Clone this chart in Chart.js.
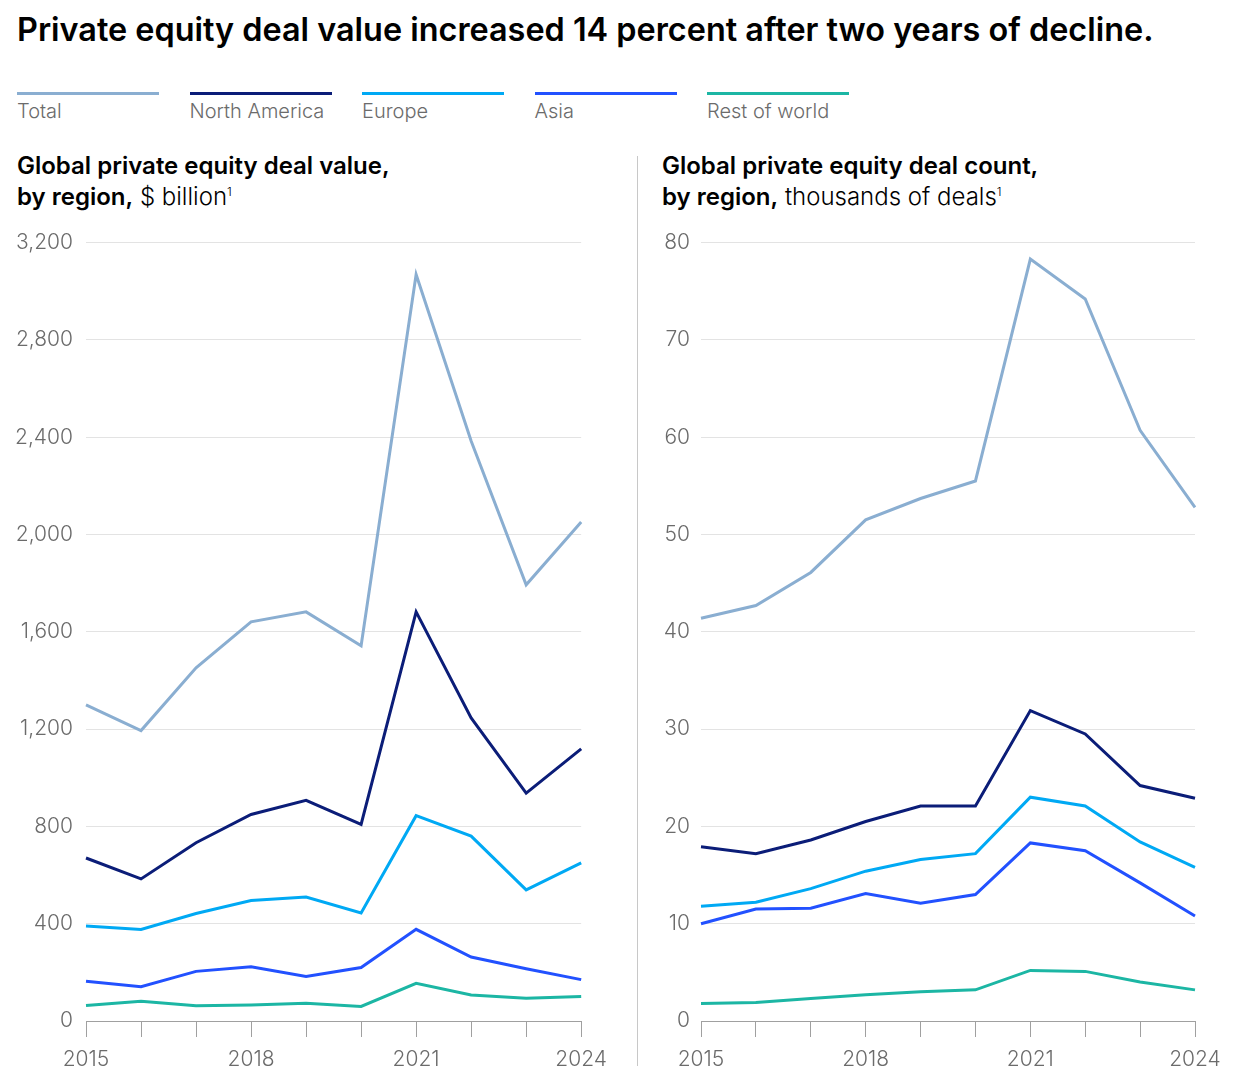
<!DOCTYPE html>
<html>
<head>
<meta charset="utf-8">
<script src="https://cdn.jsdelivr.net/npm/chart.js@4"></script>
<style>
    body {
        margin: 0;
        width: 1249px;
        height: 1078px;
        background: #fff;
        font-family: Inter, "Noto Sans", sans-serif;
        position: relative;
        overflow: hidden;
    }

    h1 {
        position: absolute;
        left: 17px;
        top: 10px;
        margin: 0;
        font-size: 32.4px;
        font-weight: 600;
        color: #000;
        letter-spacing: 0;
    }

    .legend-item {
        position: absolute;
        top: 92px;
        width: 142px;
        font-size: 20px;
        font-weight: 300;
        color: #6b6b6b;
    }

    .legend-item .swatch {
        height: 3px;
        margin-bottom: 4px;
    }

    .subtitle {
        position: absolute;
        top: 150px;
        margin: 0;
        font-size: 24px;
        line-height: 31px;
        color: #000;
    }

    .subtitle b { font-weight: 600; }
    .subtitle span { font-weight: 300; }
    .subtitle sup { font-size: 12px; font-weight: 300; line-height: 0; }

    .divider {
        position: absolute;
        left: 637px;
        top: 156px;
        width: 1px;
        height: 910px;
        background: #c8c8c8;
    }

    .chart-box {
        position: absolute;
    }
</style>
</head>
<body>

<h1>Private equity deal value increased 14 percent after two years of decline.</h1>

<div id="legend"></div>

<p class="subtitle" style="left:17px"><b>Global private equity deal value,<br>by region,</b> <span>$ billion</span><sup>1</sup></p>
<p class="subtitle" style="left:662px"><b>Global private equity deal count,<br>by region,</b> <span>thousands of deals</span><sup>1</sup></p>

<div class="divider"></div>

<div class="chart-box" style="left:0; top:217px; width:617px; height:861px"><canvas id="value-chart"></canvas></div>
<div class="chart-box" style="left:640px; top:219px; width:609px; height:859px"><canvas id="count-chart"></canvas></div>

<script>
//DATOS
const years = ['2015', '2016', '2017', '2018', '2019', '2020', '2021', '2022', '2023', '2024'];
const shownYears = ['2015', '2018', '2021', '2024'];

const regions = ['Total', 'North America', 'Europe', 'Asia', 'Rest of world'];
const regionColors = ['#8aaed1', '#0b1d78', '#00a9f4', '#2251ff', '#1cb6a4'];

// deal value, $ billion
const valueTotal = [1300, 1194, 1452, 1641, 1682, 1543, 3069, 2384, 1793, 2051];
const valueNorthAmerica = [670, 584, 733, 849, 907, 808, 1682, 1246, 937, 1119];
const valueEurope = [391, 376, 442, 495, 510, 444, 844, 760, 539, 650];
const valueAsia = [163, 141, 204, 223, 183, 220, 377, 263, 215, 170];
const valueRest = [64, 81, 63, 66, 73, 60, 155, 107, 94, 101];

// deal count, thousands
const countTotal = [41.4, 42.7, 46.1, 51.5, 53.7, 55.5, 78.3, 74.2, 60.7, 52.8];
const countNorthAmerica = [17.9, 17.2, 18.6, 20.5, 22.1, 22.1, 31.9, 29.5, 24.2, 22.9];
const countEurope = [11.8, 12.2, 13.6, 15.4, 16.6, 17.2, 23.0, 22.1, 18.4, 15.8];
const countAsia = [10.0, 11.5, 11.6, 13.1, 12.1, 13.0, 18.3, 17.5, 14.2, 10.8];
const countRest = [1.8, 1.9, 2.3, 2.7, 3.0, 3.2, 5.2, 5.1, 4.0, 3.2];

const valueTicks = [0, 400, 800, 1200, 1600, 2000, 2400, 2800, 3200];
const countTicks = [0, 10, 20, 30, 40, 50, 60, 70, 80];

//LEYENDA
const legend = document.getElementById('legend');

regions.forEach(function (name, i) {
    const item = document.createElement('div');
    item.className = 'legend-item';
    item.style.left = (17 + i * 172.5) + 'px';
    item.innerHTML =
        '<div class="swatch" style="background:' + regionColors[i] + '"></div>' + name;
    legend.appendChild(item);
});

const tickFont = { family: 'Inter, "Noto Sans", sans-serif', size: 21, weight: 300 };
const tickColor = '#6b6b6b';

function makeChart(canvasId, seriesList, yTicks, yAxisWidth, labelPad, topPad, rightPad) {

    const ctx = document.getElementById(canvasId);

    return new Chart(ctx, {
        type: 'line',

        data: {
            labels: years,
            datasets: seriesList.map(function (values, i) {
                return {
                    label: regions[i],
                    data: values,
                    borderColor: regionColors[i],
                    backgroundColor: regionColors[i],
                    borderWidth: 3,
                    pointRadius: 0,
                    tension: 0,
                    fill: false
                };
            })
        },

        options: {
            responsive: true,
            maintainAspectRatio: false,
            animation: false,

            layout: {
                padding: { top: topPad, right: rightPad, bottom: 0, left: 0 }
            },

            plugins: {
                legend: { display: false },
                tooltip: { enabled: false }
            },

            scales: {
                x: {
                    offset: false,
                    grid: {
                        drawOnChartArea: false,
                        tickLength: 16,
                        color: '#a0a0a0',
                        lineWidth: 1
                    },
                    border: { display: true, color: '#a0a0a0', width: 1 },
                    ticks: {
                        autoSkip: false,
                        maxRotation: 0,
                        padding: 10,
                        color: tickColor,
                        font: tickFont,
                        callback: function (value, index) {
                            const year = years[index];
                            return shownYears.includes(year) ? year : '';
                        }
                    },
                    afterFit: function (scale) { scale.height = 57; }
                },

                y: {
                    min: yTicks[0],
                    max: yTicks[yTicks.length - 1],
                    afterBuildTicks: function (scale) {
                        scale.ticks = yTicks.map(function (v) { return { value: v }; });
                    },
                    grid: {
                        drawTicks: false,
                        color: '#e3e3e3',
                        lineWidth: 1
                    },
                    border: { display: false },
                    ticks: {
                        padding: labelPad,
                        color: tickColor,
                        font: tickFont,
                        callback: function (value) {
                            return value.toLocaleString('en-US');
                        }
                    },
                    afterFit: function (scale) { scale.width = yAxisWidth; }
                }
            }
        }
    });
}

makeChart(
    'value-chart',
    [valueTotal, valueNorthAmerica, valueEurope, valueAsia, valueRest],
    valueTicks, 86, 13, 16, 29
);

makeChart(
    'count-chart',
    [countTotal, countNorthAmerica, countEurope, countAsia, countRest],
    countTicks, 61, 11, 20, 54
);
</script>

</body>
</html>
